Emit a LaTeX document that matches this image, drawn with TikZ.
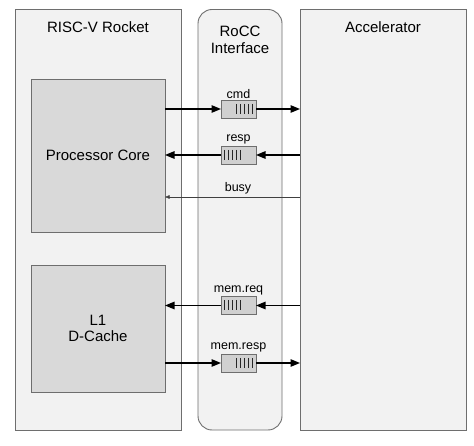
\documentclass[tikz,border=0pt]{standalone}
\usepackage{fontspec}
\setmainfont{Liberation Sans}
\usetikzlibrary{arrows.meta}
\definecolor{boxline}{HTML}{6E6E6E}
\definecolor{outerfill}{HTML}{F2F2F2}
\definecolor{innerfill}{HTML}{D9D9D9}
\definecolor{queuefill}{HTML}{D0D0D0}
\begin{document}
\begin{tikzpicture}[x=1pt,y=-1pt,
  outer/.style={draw=boxline,fill=outerfill,line width=0.9pt,inner sep=0pt,outer sep=0pt,minimum height=420.5pt},
  inner/.style={draw=boxline,fill=innerfill,line width=0.9pt,inner sep=0pt,outer sep=0pt,minimum width=134pt,align=center,font=\fontsize{15}{16.5}\selectfont},
  queue/.style={draw=boxline,fill=queuefill,line width=0.8pt,inner sep=0pt,outer sep=0pt,minimum width=35pt,minimum height=18pt},
  title/.style={font=\fontsize{15}{16.5}\selectfont,align=center,inner sep=0pt},
  lbl/.style={font=\fontsize{12.5}{14}\selectfont,inner sep=1.5pt,anchor=south},
  arr/.style={line width=1.3pt,-{Triangle[length=9.5pt,width=7.5pt]}},
  thinarr/.style={line width=0.5pt,draw=black!75,-{Triangle[length=4.5pt,width=3.5pt]}},
  qline/.style={line width=0.9pt,draw=black!85}]
\useasboundingbox[fill=white] (0,0) rectangle (474,446);
% outer blocks
\node[outer,minimum width=166pt] (rocket) at (98,219.75) {};
\node[outer,minimum width=84pt,rounded corners=14pt] (rocc) at (240,219.75) {};
\node[outer,minimum width=166pt] (accel) at (383,219.75) {};
\node[title] (trocket) at (98,27) {RISC-V Rocket};
\node[title] (trocc) at (240,40) {RoCC\\Interface};
\node[title] (taccel) at (383,27) {Accelerator};
% inner blocks
\node[inner,minimum height=153pt] (core) at (98,155.5) {Processor Core};
\node[inner,minimum height=127pt] (l1) at (98,328.5) {L1\\D-Cache};
% queues
\node[queue] (qcmd) at (238.5,109) {};
\node[queue] (qresp) at (238.5,155) {};
\node[queue] (qreq) at (238.5,305.5) {};
\node[queue] (qmresp) at (238.5,363) {};
\foreach \q in {qcmd,qmresp}{
  \foreach \i in {0,...,4}{
    \draw[qline] ([xshift={(-2.5+4*\i)*1pt},yshift=5pt]\q.center) -- ++(0,10);
  }
}
\foreach \q in {qresp,qreq}{
  \foreach \i in {0,...,4}{
    \draw[qline] ([xshift={(-14.5+4*\i)*1pt},yshift=5pt]\q.center) -- ++(0,10);
  }
}
\node[lbl] (lcmd) at (qcmd.north) {cmd};
\node[lbl] (lresp) at (qresp.north) {resp};
\node[lbl] (lreq) at (qreq.north) {mem.req};
\node[lbl] (lmresp) at (qmresp.north) {mem.resp};
% connectors
\draw[arr] (core.east |- qcmd) -- (qcmd.west);
\draw[arr] (qcmd.east) -- (accel.west |- qcmd);
\draw[arr] (accel.west |- qresp) -- (qresp.east);
\draw[arr] (qresp.west) -- (core.east |- qresp);
\coordinate (busyy) at (0,197);
\draw[thinarr] (accel.west |- busyy) -- (core.east |- busyy);
\node[lbl,anchor=center] (lbusy) at (238,188) {busy};
\draw[arr] (accel.west |- qreq) -- (qreq.east);
\draw[arr] (qreq.west) -- (l1.east |- qreq);
\draw[arr] (l1.east |- qmresp) -- (qmresp.west);
\draw[arr] (qmresp.east) -- (accel.west |- qmresp);
\end{tikzpicture}
\end{document}
